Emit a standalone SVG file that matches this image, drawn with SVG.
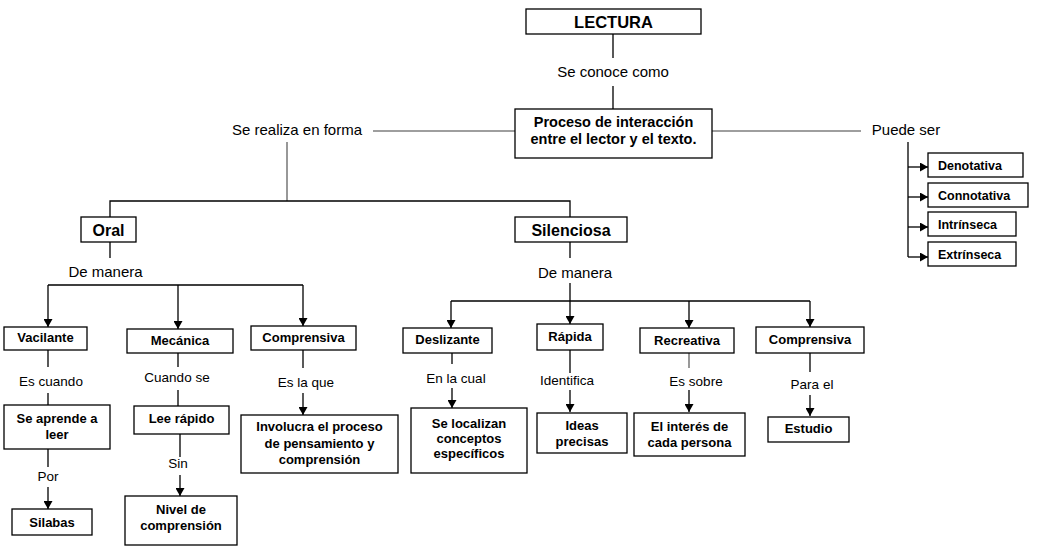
<svg xmlns="http://www.w3.org/2000/svg" width="1038" height="560" viewBox="0 0 1038 560">
<defs>
<marker id="arr" markerUnits="userSpaceOnUse" markerWidth="8" markerHeight="9" refX="8" refY="4.5" orient="auto"><path d="M0,0 L8,4.5 L0,9 z" fill="#000"/></marker>
<style>
.box{fill:#fff;stroke:#000;stroke-width:1.3}
.t{font-family:"Liberation Sans",Arial,sans-serif;fill:#000;text-anchor:middle}
.b{font-weight:bold;font-size:13px}
.bl{font-weight:bold;font-size:16px}
.lab{font-size:15px}
.ls{font-size:13.5px}
.sm{font-weight:bold;font-size:12.5px;text-anchor:start}
.ln{stroke:#000;stroke-width:1.3;fill:none}
.g{stroke:#7f7f7f;stroke-width:1.6;fill:none}
.a{marker-end:url(#arr)}
</style>
</defs>
<rect width="1038" height="560" fill="#fff"/>
<g id="connectors">
<path class="ln" d="M613,34V58M613,86V109"/>
<path class="g" d="M373,131H515M712,131H861M287,142V201"/>
<path class="ln" d="M110,217V201H570V217"/>
<path class="ln" d="M908,142V257"/>
<path class="ln a" d="M908,167H928"/>
<path class="ln a" d="M908,197H928"/>
<path class="ln a" d="M908,227H928"/>
<path class="ln a" d="M908,257H928"/>
<path class="ln" d="M110,242V258M48,285H303"/>
<path class="ln a" d="M48,285V327"/>
<path class="ln a" d="M178,285V329"/>
<path class="ln a" d="M303,285V326"/>
<path class="ln" d="M48,350V367M48,393V405M48,449V467"/>
<path class="ln a" d="M48,487V509"/>
<path class="ln" d="M178,353V367M178,390V406M180,434V457"/>
<path class="ln a" d="M180,475V496"/>
<path class="ln" d="M303,350V368"/>
<path class="ln a" d="M303,393V415"/>
<path class="ln" d="M570,242V258"/>
<path class="ln a" d="M570,283V324"/>
<path class="ln" d="M451,301H810"/>
<path class="ln a" d="M451,301V328"/>
<path class="ln a" d="M689,301V328"/>
<path class="ln a" d="M810,301V327"/>
<path class="ln" d="M452,353V364"/>
<path class="ln a" d="M452,388V408"/>
<path class="ln" d="M570,350V373"/>
<path class="ln a" d="M570,390V412"/>
<path class="g" d="M689,353V368"/>
<path class="ln a" d="M689,390V412"/>
<path class="ln" d="M810,353V372"/>
<path class="ln a" d="M810,395V416"/>
</g>
<g id="labels">
<text class="t lab" x="613" y="77">Se conoce como</text>
<text class="t lab" x="297" y="135">Se realiza en forma</text>
<text class="t lab" x="906" y="135">Puede ser</text>
<text class="t lab" x="105.5" y="277">De manera</text>
<text class="t lab" x="575" y="278">De manera</text>
<text class="t ls" x="51" y="386">Es cuando</text>
<text class="t ls" x="48" y="481">Por</text>
<text class="t ls" x="177" y="382">Cuando se</text>
<text class="t ls" x="178" y="467.5">Sin</text>
<text class="t ls" x="306" y="387">Es la que</text>
<text class="t ls" x="456" y="382.5">En la cual</text>
<text class="t ls" x="567" y="385">Identifica</text>
<text class="t ls" x="696" y="386">Es sobre</text>
<text class="t ls" x="812" y="389">Para el</text>
</g>
<g id="lectura"><rect class="box" x="526" y="9" width="175" height="25"/><text class="t" x="613.5" y="27.5" style="font-weight:bold;font-size:16.5px">LECTURA</text></g>
<g id="proceso"><rect class="box" x="515" y="109" width="197" height="49"/><text class="t" x="613.5" y="127" style="font-weight:bold;font-size:14.5px">Proceso de interacción</text><text class="t" x="613.5" y="144" style="font-weight:bold;font-size:14.5px">entre el lector y el texto.</text></g>
<g id="denotativa"><rect class="box" x="928" y="153" width="95" height="24"/><text class="t sm" x="938" y="170">Denotativa</text></g>
<g id="connotativa"><rect class="box" x="928" y="183" width="100" height="24"/><text class="t sm" x="938" y="200">Connotativa</text></g>
<g id="intrinseca"><rect class="box" x="928" y="212" width="88" height="24"/><text class="t sm" x="938" y="229">Intrínseca</text></g>
<g id="extrinseca"><rect class="box" x="928" y="242" width="88" height="24"/><text class="t sm" x="938" y="259">Extrínseca</text></g>
<g id="oral"><rect class="box" x="81" y="217" width="55" height="25"/><text class="t bl" x="108.5" y="236">Oral</text></g>
<g id="silenciosa"><rect class="box" x="515" y="217" width="112" height="25"/><text class="t bl" x="571" y="236">Silenciosa</text></g>
<g id="vacilante"><rect class="box" x="4" y="327" width="83" height="23"/><text class="t b" x="45.5" y="342">Vacilante</text></g>
<g id="aprende"><rect class="box" x="4" y="405" width="106" height="44"/><text class="t b" x="57" y="423">Se aprende a</text><text class="t b" x="57" y="439">leer</text></g>
<g id="silabas"><rect class="box" x="12" y="509" width="80" height="26"/><text class="t b" x="52" y="527">Silabas</text></g>
<g id="mecanica"><rect class="box" x="127" y="329" width="106" height="24"/><text class="t b" x="180" y="345">Mecánica</text></g>
<g id="leerapido"><rect class="box" x="134" y="406" width="95" height="28"/><text class="t b" x="181.5" y="423">Lee rápido</text></g>
<g id="nivel"><rect class="box" x="125" y="496" width="112" height="49"/><text class="t b" x="181" y="514">Nivel de</text><text class="t b" x="181" y="530">comprensión</text></g>
<g id="comprensiva1"><rect class="box" x="251" y="326" width="105" height="24"/><text class="t b" x="303.5" y="341.5">Comprensiva</text></g>
<g id="involucra"><rect class="box" x="241" y="415" width="157" height="58"/><text class="t b" x="319.5" y="431">Involucra el proceso</text><text class="t b" x="319.5" y="448">de pensamiento y</text><text class="t b" x="319.5" y="464">comprensión</text></g>
<g id="deslizante"><rect class="box" x="403" y="328" width="89" height="25"/><text class="t b" x="447.5" y="344">Deslizante</text></g>
<g id="localizan"><rect class="box" x="411" y="408" width="116" height="65"/><text class="t b" x="469" y="427.5">Se localizan</text><text class="t b" x="469" y="442.5">conceptos</text><text class="t b" x="469" y="458">específicos</text></g>
<g id="rapida"><rect class="box" x="537" y="324" width="66" height="26"/><text class="t b" x="570" y="341">Rápida</text></g>
<g id="ideas"><rect class="box" x="537" y="413" width="90" height="40"/><text class="t b" x="582" y="430">Ideas</text><text class="t b" x="582" y="445.5">precisas</text></g>
<g id="recreativa"><rect class="box" x="640" y="328" width="94" height="25"/><text class="t b" x="687" y="345">Recreativa</text></g>
<g id="interes"><rect class="box" x="634" y="413" width="111" height="43"/><text class="t b" x="689.5" y="430.5">El interés de</text><text class="t b" x="689.5" y="446.5">cada persona</text></g>
<g id="comprensiva2"><rect class="box" x="756" y="327" width="108" height="26"/><text class="t b" x="810" y="344">Comprensiva</text></g>
<g id="estudio"><rect class="box" x="768" y="417" width="81" height="25"/><text class="t b" x="808.5" y="433">Estudio</text></g>
</svg>
